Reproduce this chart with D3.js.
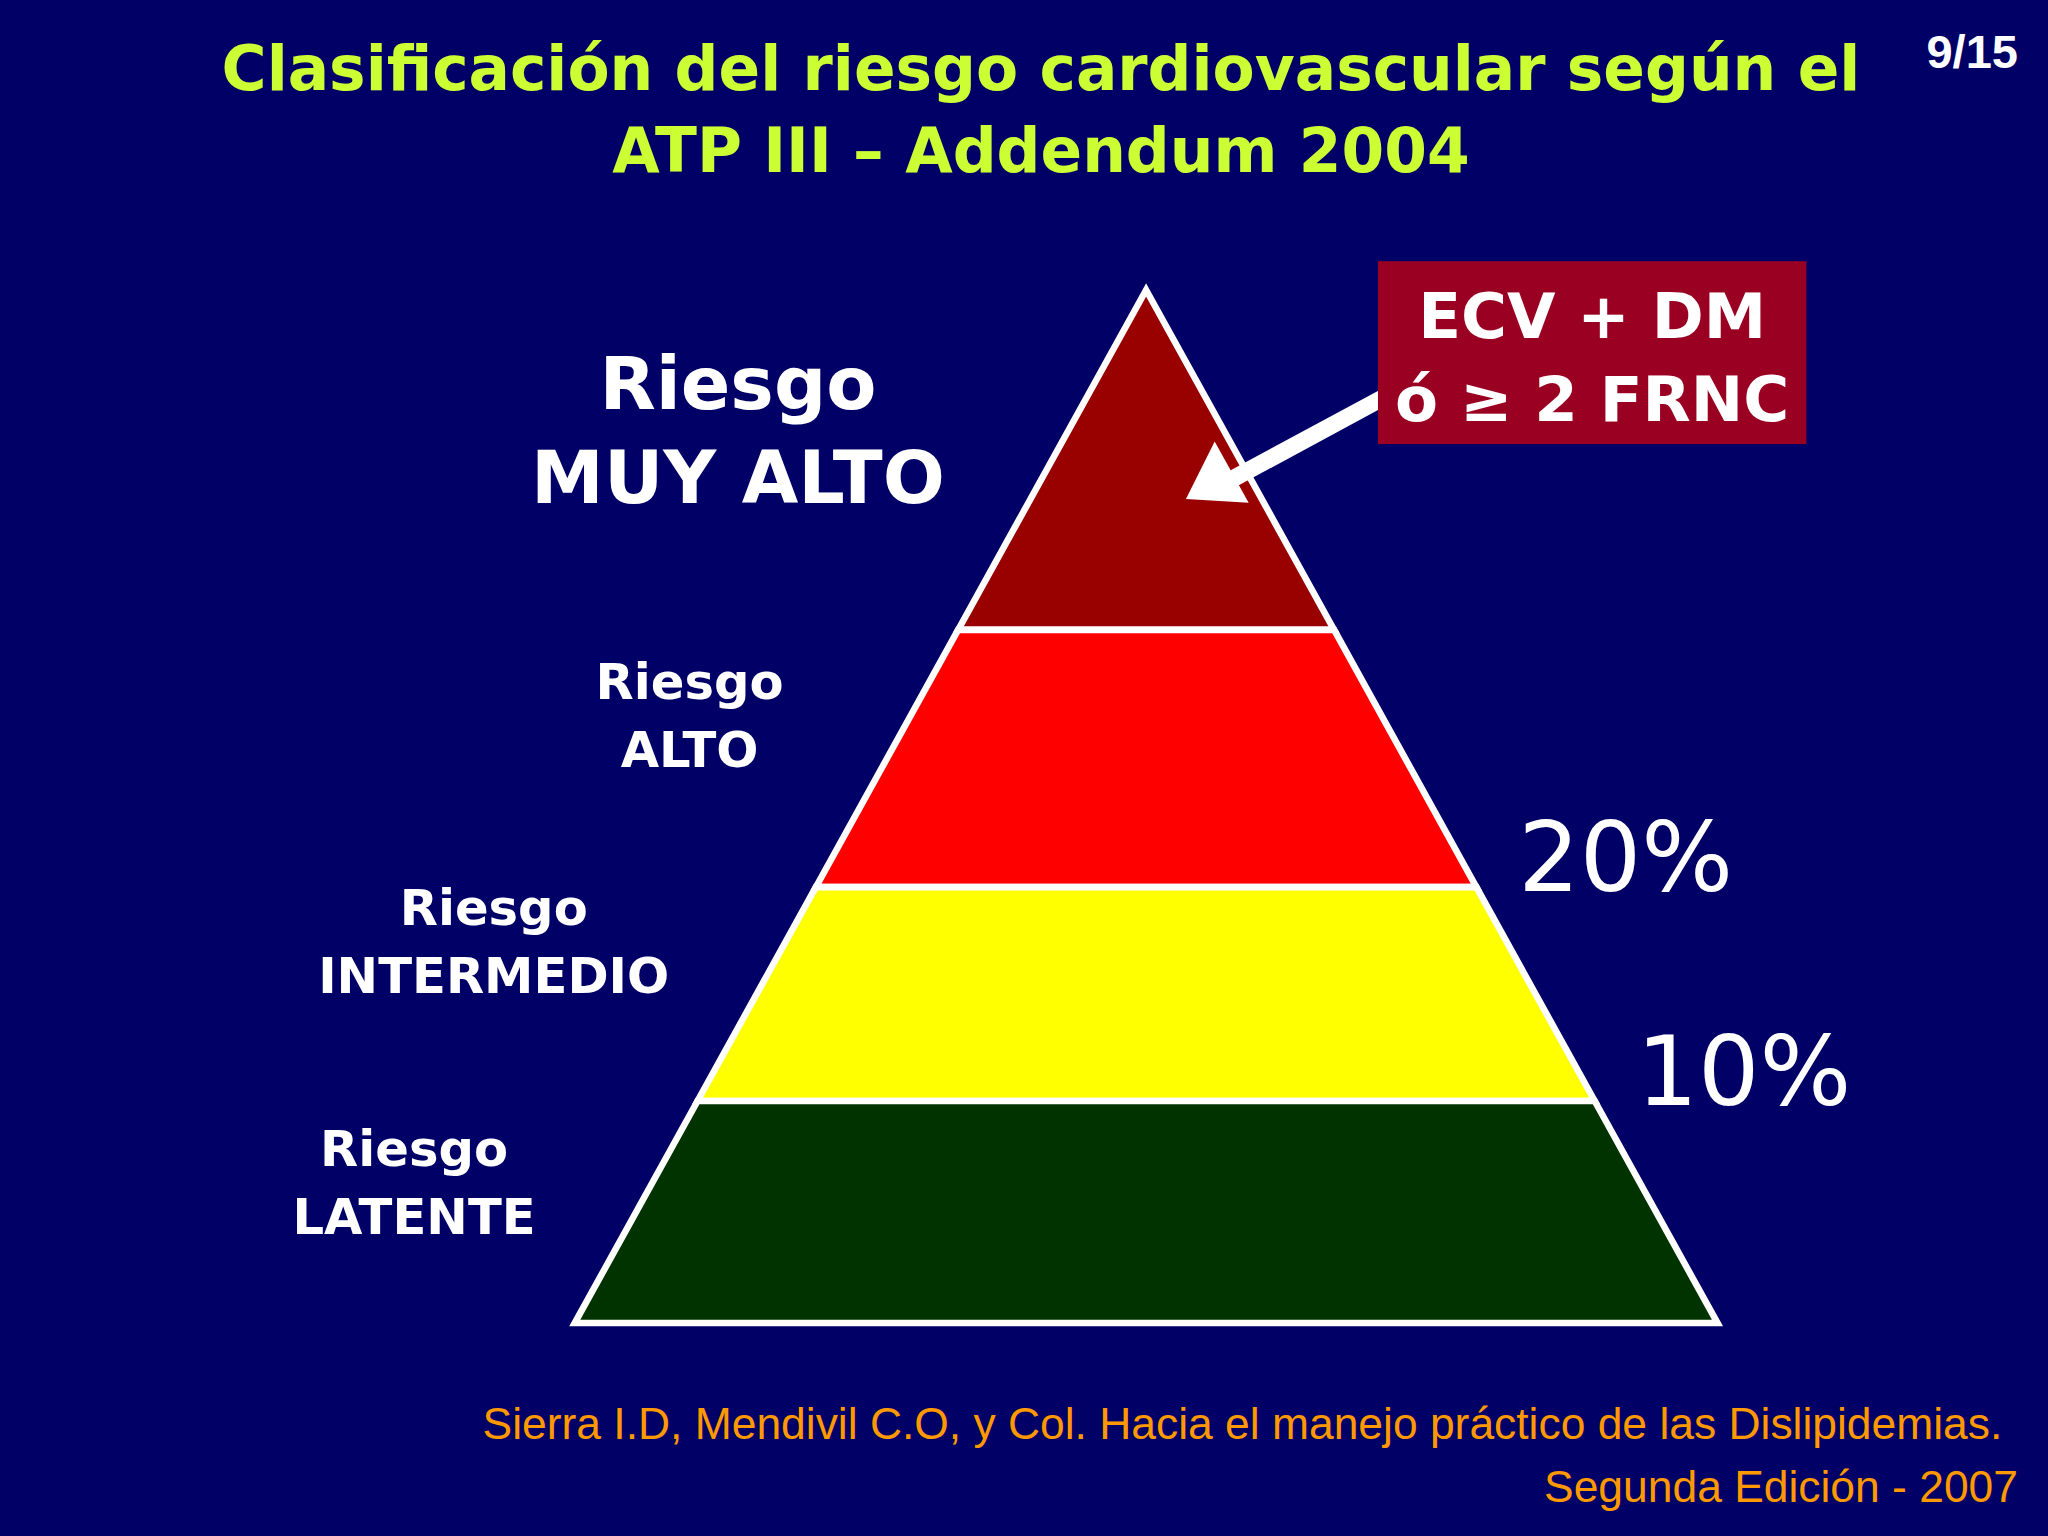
<!DOCTYPE html>
<html><head><meta charset="utf-8">
<script src="https://cdn.jsdelivr.net/npm/d3@7"></script>
<style>html,body{margin:0;padding:0;background:#000066;overflow:hidden}</style>
</head><body>
<script>
const levelNames = ["MUY ALTO","ALTO","INTERMEDIO","LATENTE"];
const levelBounds = [0, 0.329, 0.578, 0.785, 1];
const levelColors = ["#990000","#ff0000","#ffff00","#003300"];
const thresholdLabels = ["20%","10%"];
const thresholdLevels = [0.578, 0.785];

const svg = d3.select("body").append("svg")
  .attr("width",2048).attr("height",1536).attr("viewBox","0 0 1568 1176");
svg.append("rect").attr("width",1568).attr("height",1176).attr("fill","#000066");

const y = d3.scaleLinear().domain([0,1]).range([222,1013]);
const hw = d3.scaleLinear().domain([0,1]).range([0,437.5]);
const cx = 877.5;

const bands = levelNames.map((n,i)=>({n,a:levelBounds[i],b:levelBounds[i+1],c:levelColors[i]}));
svg.selectAll("path.band").data(bands).join("path")
  .attr("d",d=>{
    const pts=[[cx-hw(d.a),y(d.a)],[cx+hw(d.a),y(d.a)],[cx+hw(d.b),y(d.b)],[cx-hw(d.b),y(d.b)]];
    return d3.line()(pts)+"Z";})
  .attr("fill",d=>d.c).attr("stroke","white").attr("stroke-width",5).attr("stroke-linejoin","miter");

const bold = "'DejaVu Sans', Verdana, sans-serif";
// title
const t = svg.append("text").attr("text-anchor","middle").attr("fill","#ccff33")
  .attr("font-family",bold).attr("font-weight","bold").attr("font-size",47);
t.append("tspan").attr("x",797).attr("y",69).text("Clasificación del riesgo cardiovascular según el");
t.append("tspan").attr("x",797).attr("y",132).text("ATP III – Addendum 2004");
svg.append("text").attr("x",1545).attr("y",52).attr("text-anchor","end").attr("fill","white")
  .attr("font-family","'Liberation Sans',Arial").attr("font-weight","bold").attr("font-size",36).text("9/15");

// level labels
const labelPos = [{x:565,y1:313,y2:385,s:56},{x:528,y1:535,y2:587,s:38},{x:378,y1:708,y2:760,s:38},{x:317,y1:893,y2:945,s:38}];
labelPos.forEach((p,i)=>{
  const g=svg.append("text").attr("text-anchor","middle").attr("fill","white")
    .attr("font-family",bold).attr("font-weight","bold").attr("font-size",p.s);
  g.append("tspan").attr("x",p.x).attr("y",p.y1).text("Riesgo");
  g.append("tspan").attr("x",p.x).attr("y",p.y2).text(levelNames[i]);
});

// thresholds
thresholdLabels.forEach((l,i)=>{
  const lv=thresholdLevels[i];
  svg.append("text").attr("x",cx+hw(lv)+32).attr("y",y(lv)+3).attr("fill","white")
    .attr("font-family",bold).attr("font-size",74).text(l);
});

// box + arrow
svg.append("line").attr("x1",1058).attr("y1",305).attr("x2",945).attr("y2",366)
  .attr("stroke","white").attr("stroke-width",13);
svg.append("path").attr("d","M908,382 L930,338 L956,385 Z").attr("fill","white");
svg.append("rect").attr("x",1055).attr("y",200).attr("width",328).attr("height",140).attr("fill","#990022");
const bt=svg.append("text").attr("text-anchor","middle").attr("fill","white")
  .attr("font-family",bold).attr("font-weight","bold").attr("font-size",48);
bt.append("tspan").attr("x",1219).attr("y",259).text("ECV + DM");
bt.append("tspan").attr("x",1219).attr("y",322).text("ó ≥ 2 FRNC");

// citation
const c=svg.append("text").attr("text-anchor","end").attr("fill","#ff9900")
  .attr("font-family","'Liberation Sans',Arial").attr("font-size",34);
c.append("tspan").attr("x",1533).attr("y",1102).text("Sierra I.D, Mendivil C.O, y Col. Hacia el manejo práctico de las Dislipidemias.");
c.append("tspan").attr("x",1545).attr("y",1150).text("Segunda Edición - 2007");
</script>
</body></html>
